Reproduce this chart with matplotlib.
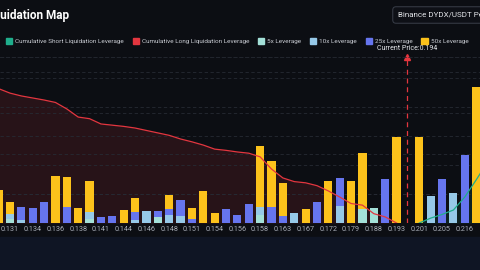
import numpy as np
import matplotlib
matplotlib.use("Agg")
import matplotlib.pyplot as plt
from matplotlib.patches import Patch, Rectangle

plt.rcParams['font.family'] = ['Roboto', 'DejaVu Sans']

# liquidation amounts per price bucket (K USD), left edge bucket first
lev5 = [0, 7, 0, 0, 0, 0, 0, 0, 7, 0,
        0, 0, 0, 0, 10, 0, 0, 0, 0, 0,
        0, 0, 0, 14, 0, 0, 0, 0, 0, 0,
        0, 0, 24, 25, 0, 0, 0, 0, 0, 0,
        0, 0, 0, 0]
lev10 = [0, 9, 6, 0, 0, 0, 0, 0, 12, 0,
         0, 0, 6, 21, 0, 14, 12, 0, 0, 0,
         0, 0, 0, 14, 0, 0, 18, 0, 0, 0,
         29, 0, 0, 0, 0, 0, 0, 0, 47, 0,
         52, 0, 0, 0]
lev25 = [0, 0, 21, 26, 37, 0, 27, 0, 0, 11,
         12, 0, 13, 0, 10, 10, 27, 7, 0, 0,
         24, 14, 32, 0, 27, 12, 0, 0, 36, 0,
         48, 0, 0, 0, 75, 0, 0, 0, 0, 75,
         0, 117, 0, 0]
lev50 = [57, 21, 0, 0, 0, 81, 52, 25, 54, 0,
         0, 23, 24, 0, 0, 25, 0, 18, 55, 17,
         0, 0, 0, 105, 80, 57, 0, 24, 0, 72,
         0, 72, 96, 0, 0, 149, 0, 149, 0, 0,
         0, 0, 234, 0]

# cumulative liquidation (M USD)
long_cum = [3.31, 3.20, 3.13, 3.08, 3.03, 2.97, 2.81, 2.61, 2.57, 2.44,
            2.41, 2.38, 2.34, 2.28, 2.22, 2.16, 2.07, 2.00, 1.92, 1.82,
            1.79, 1.75, 1.72, 1.63, 1.33, 1.11, 1.02, 0.99, 0.92, 0.79,
            0.64, 0.48, 0.44, 0.23, 0.15, 0.0]
short_cum = [0.0, 0.12, 0.21, 0.32, 0.64, 1.06, 1.50]

price_ticks = ['0.131', '0.134', '0.136', '0.138', '0.141', '0.144', '0.146',
               '0.148', '0.151', '0.154', '0.156', '0.158', '0.163', '0.167',
               '0.172', '0.179', '0.188', '0.193', '0.201', '0.205', '0.216',
               '0.223']
current_price = 0.194

c5, c10, c25, c50 = '#a3e0d8', '#96c9e8', '#6675ee', '#fcc21b'
c_long, c_short = '#e3363f', '#1fae8c'
bg = '#0c0e13'

x = np.arange(len(lev50))
b5 = np.array(lev5)
b10 = b5 + np.array(lev10)
b25 = b10 + np.array(lev25)

fig = plt.figure(figsize=(4.8, 2.7), dpi=100)
fig.patch.set_facecolor(bg)
fig.patches.append(Rectangle((0, 0), 1, 33 / 270, transform=fig.transFigure,
                             color='#0f1524', zorder=0))

rect = [0, 47 / 270, 1, 166 / 270]
xlim = (0.12, 42.34)

# bottom layer: cumulative fill + right-axis grid
axb = fig.add_axes(rect)
axb.set_facecolor(bg)
x_long = x[:len(long_cum)]
x_short = x[37:37 + len(short_cum)]
axb.fill_between(x_long, long_cum, 0, color=c_long, alpha=0.13, lw=0)
axb.fill_between(x_short, short_cum, 0, color=c_short, alpha=0.12, lw=0)
axb.set_ylim(0, 4.09)
axb.set_yticks([0.71, 1.71, 2.71, 3.71])
axb.grid(axis='y', ls=(0, (4, 3)), color='#262a33', lw=0.6)

# middle layer: stacked bars
ax = fig.add_axes(rect)
ax.patch.set_visible(False)
w = 0.72
ax.bar(x, lev5, w, color=c5, lw=0)
ax.bar(x, lev10, w, bottom=b5, color=c10, lw=0)
ax.bar(x, lev25, w, bottom=b10, color=c25, lw=0)
ax.bar(x, lev50, w, bottom=b25, color=c50, lw=0)
ax.set_ylim(0, 286)
ax.set_yticks([50, 100, 150, 200, 250])
ax.grid(axis='y', ls=(0, (4, 3)), color='#262a33', lw=0.6)
ax.set_axisbelow(True)
ax.set_xticks(x[1::2][:len(price_ticks)])
ax.set_xticklabels(price_ticks)
ax.tick_params(axis='x', length=0, pad=2.5, colors='#a9aeb8', labelsize=5.2)

# top layer: cumulative lines + current price
axl = fig.add_axes(rect)
axl.patch.set_visible(False)
axl.plot(x_long, long_cum, color=c_long, lw=0.9)
axl.plot(x_short, short_cum, color=c_short, lw=0.9)
axl.set_ylim(0, 4.09)
cur_x = 35.9
axl.axvline(cur_x, color=c_long, lw=0.9, ls=(0, (4, 3)))
axl.plot([cur_x], [1], marker='^', ms=4, color=c_long,
         transform=axl.get_xaxis_transform(), clip_on=False)
axl.annotate(f'Current Price:{current_price}', xy=(cur_x, 1),
             xycoords=('data', 'axes fraction'), xytext=(0, 6),
             textcoords='offset points', ha='center', va='center',
             fontsize=5, color='#e6e8ec')

for a in (axb, ax, axl):
    a.set_xlim(*xlim)
    for s in a.spines.values():
        s.set_visible(False)
    a.tick_params(axis='y', length=0, labelleft=False, labelright=False)
for a in (axb, axl):
    a.tick_params(axis='x', length=0, labelbottom=False)
axl.spines['top'].set_visible(True)
axl.spines['top'].set_linestyle((0, (4, 3)))
axl.spines['top'].set_color('#262a33')
axl.spines['top'].set_linewidth(0.6)

# legend
handles = [Patch(color=c) for c in (c_short, c_long, c5, c10, c25, c50)]
labels = ['Cumulative Short Liquidation Leverage',
          'Cumulative Long Liquidation Leverage',
          '5x Leverage', '10x Leverage', '25x Leverage', '50x Leverage']
leg = fig.legend(handles, labels, ncol=6, loc='center left',
                 bbox_to_anchor=(6 / 480, 1 - 41 / 270), frameon=False,
                 fontsize=4.6, handlelength=1.0, handleheight=1.0,
                 handletextpad=0.45, columnspacing=1.35, borderpad=0,
                 borderaxespad=0)
for t in leg.get_texts():
    t.set_color('#c9ccd3')

fig.text(-16 / 480, 1 - 15 / 270, 'Liquidation Map', color='white',
         fontsize=8.5, fontweight='bold', va='center', ha='left')
fig.text(398 / 480, 1 - 15 / 270, 'Binance DYDX/USDT Perpetual',
         color='#e2e4e8', fontsize=5.8, va='center', ha='left',
         bbox=dict(boxstyle='round,pad=0.65,rounding_size=0.4',
                   fc='#0e1016', ec='#3a3f4a', lw=0.7))

fig.savefig('out.png', dpi=100, facecolor=fig.get_facecolor())
